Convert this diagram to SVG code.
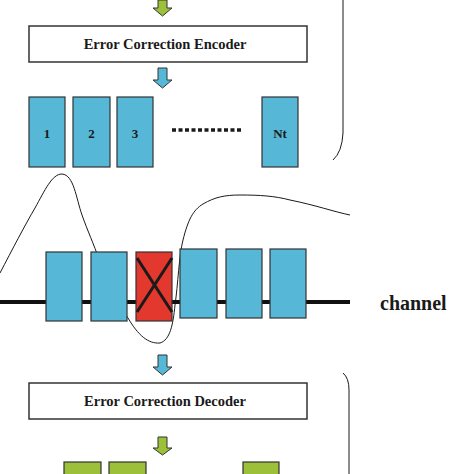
<svg xmlns="http://www.w3.org/2000/svg" width="474" height="474" viewBox="0 0 474 474">
<style>
.lbl{font-family:"Liberation Serif","Times New Roman",serif;font-weight:bold;fill:#1a1a1a}
.box{stroke:#333;stroke-width:1.2}
.blue{fill:#56b8d6}
.green{fill:#9cc03a}
.red{fill:#e2382e}
.frame{fill:#fff;stroke:#333;stroke-width:1.5}
.curve{fill:none;stroke:#1a1a1a;stroke-width:1}
.arr{stroke:#333;stroke-width:1}
</style>
<rect width="474" height="474" fill="#fff"/>
<g id="connectors">
<path class="arr" d="M158,0 H167 V8 H172 L162.5,16 L153,8 H158 Z" fill="#9cc03a"/>
<path class="arr" d="M158,68 H167 V80 H172 L162.5,88 L153,80 H158 Z" fill="#56b8d6"/>
<path class="arr" d="M158,355 H167 V367 H172 L162.5,375 L153,367 H158 Z" fill="#56b8d6"/>
<path class="arr" d="M158,437 H167 V448 H172 L162.5,455 L153,448 H158 Z" fill="#9cc03a"/>
<path class="curve" stroke-width="1.5" d="M343,0 V133 Q342,152 333,160"/>
<path class="curve" stroke-width="1.5" d="M343,373 Q349,378 349,390 V474"/>
<path class="curve" d="M0,273 C12,250 25,225 35,208 C45,190 52,174 62,174 C74,175 76,198 82,215 C88,232 93,242 100,262 C108,285 118,305 128,318 C138,335 148,344 160,343 C170,340 173,325 175,305 C178,285 179,255 183,240 C188,220 193,210 203,204 C215,197 225,195 240,195 C260,195 275,196 290,200 C315,205 335,212 350,215"/>
<line x1="0" y1="302" x2="350" y2="302" stroke="#111" stroke-width="4"/>
</g>
<g id="encoder">
<rect class="frame" x="29" y="26" width="278" height="36"/>
<text class="lbl" x="165" y="49" font-size="14.5" text-anchor="middle">Error Correction Encoder</text>
</g>
<g id="tx-blocks">
<rect class="box blue" x="29" y="97" width="36" height="70"/>
<rect class="box blue" x="73" y="97" width="37" height="70"/>
<rect class="box blue" x="117" y="97" width="36" height="70"/>
<rect class="box blue" x="262" y="97" width="36" height="70"/>
<text class="lbl" x="47" y="138" font-size="13" text-anchor="middle">1</text>
<text class="lbl" x="91.5" y="138" font-size="13" text-anchor="middle">2</text>
<text class="lbl" x="135" y="138" font-size="13" text-anchor="middle">3</text>
<text class="lbl" x="280" y="138" font-size="13" text-anchor="middle">Nt</text>
<line x1="172" y1="130" x2="242" y2="130" stroke="#1a1a1a" stroke-width="3.5" stroke-dasharray="4,2.5"/>
</g>
<g id="channel">
<rect class="box blue" x="46" y="252" width="36" height="69"/>
<rect class="box blue" x="91" y="252" width="36" height="69"/>
<rect class="box red" x="136" y="252" width="36" height="69"/>
<line x1="137" y1="258" x2="172" y2="312" stroke="#1a1a1a" stroke-width="3"/>
<line x1="172" y1="258" x2="137" y2="312" stroke="#1a1a1a" stroke-width="3"/>
<rect class="box blue" x="180" y="249" width="37" height="69"/>
<rect class="box blue" x="226" y="249" width="36" height="69"/>
<rect class="box blue" x="270" y="249" width="36" height="69"/>
<text class="lbl" x="380" y="310" font-size="20">channel</text>
</g>
<g id="decoder">
<rect class="frame" x="29" y="383" width="278" height="36"/>
<text class="lbl" x="165" y="406" font-size="14.5" text-anchor="middle">Error Correction Decoder</text>
</g>
<g id="rx-blocks">
<rect class="box green" x="64" y="462" width="37" height="20"/>
<rect class="box green" x="109" y="462" width="37" height="20"/>
<rect class="box green" x="243" y="462" width="36" height="20"/>
</g>
</svg>
